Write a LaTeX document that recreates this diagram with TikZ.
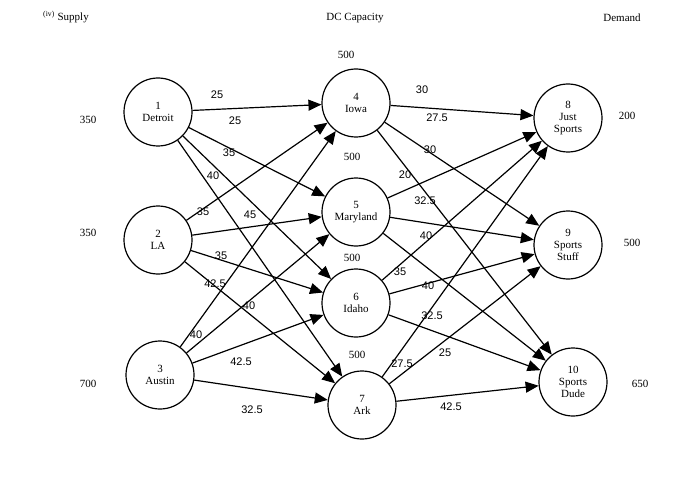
\documentclass[tikz,border=0pt]{standalone}
\usepackage{fontspec}
\setmainfont{Liberation Serif}
\newfontfamily\numfont{Liberation Sans}
\usetikzlibrary{arrows.meta}
\begin{document}
\begin{tikzpicture}[x=1pt,y=-1pt,
  nd/.style={draw,circle,line width=1.2pt,minimum size=68pt,inner sep=0pt,align=center,font=\fontsize{11}{12}\selectfont},
  ed/.style={line width=1.2pt,-{Triangle[length=13pt,width=11pt]}},
  lb/.style={font=\numfont\fontsize{11}{12}\selectfont},
  tx/.style={font=\fontsize{11}{12}\selectfont}]
\useasboundingbox (0,0) rectangle (700,489);
\node[nd] (n1) at (158,112) {1\\Detroit};
\node[nd] (n2) at (158,240) {2\\LA};
\node[nd] (n3) at (160,375) {3\\Austin};
\node[nd] (n4) at (356,103) {4\\Iowa};
\node[nd] (n5) at (356,212) {5\\Maryland};
\node[nd] (n6) at (356,303) {6\\Idaho};
\node[nd] (n7) at (362,405) {7\\Ark};
\node[nd] (n8) at (568,118) {8\\Just\\Sports};
\node[nd] (n9) at (568,245) {9\\Sports\\Stuff};
\node[nd] (n10) at (573,382) {10\\Sports\\Dude};
\foreach \s in {n1,n2,n3}{\foreach \t in {n4,n5,n6,n7}{\draw[ed] (\s) -- (\t);}}
\foreach \s in {n4,n5,n6,n7}{\foreach \t in {n8,n9,n10}{\draw[ed] (\s) -- (\t);}}
\node[tx] (h1) at (66,17) {\textsuperscript{(iv)} Supply};
\node[tx] (h2) at (355,18) {DC Capacity};
\node[tx] (h3) at (622,18) {Demand};
\node[tx] (s1) at (88,120) {350};
\node[tx] (s2) at (88,233) {350};
\node[tx] (s3) at (88,384) {700};
\node[tx] (d1) at (627,116) {200};
\node[tx] (d2) at (632,243) {500};
\node[tx] (d3) at (640,384) {650};
\node[tx] (c1) at (346,55) {500};
\node[tx] (c2) at (352,157) {500};
\node[tx] (c3) at (352,258) {500};
\node[tx] (c4) at (357,355) {500};
\node[lb] at (217,95) {25};
\node[lb] at (235,121) {25};
\node[lb] at (229,153) {35};
\node[lb] at (213,176) {40};
\node[lb] at (203,212) {35};
\node[lb] at (250,215) {45};
\node[lb] at (221,256) {35};
\node[lb] at (215,284) {42.5};
\node[lb] at (196,335) {40};
\node[lb] at (249,306) {40};
\node[lb] at (241,362) {42.5};
\node[lb] at (252,410) {32.5};
\node[lb] at (422,90) {30};
\node[lb] at (437,118) {27.5};
\node[lb] at (430,150) {30};
\node[lb] at (405,175) {20};
\node[lb] at (425,201) {32.5};
\node[lb] at (426,236) {40};
\node[lb] at (400,272) {35};
\node[lb] at (428,286) {40};
\node[lb] at (432,316) {32.5};
\node[lb] at (402,364) {27.5};
\node[lb] at (445,353) {25};
\node[lb] at (451,407) {42.5};
\end{tikzpicture}
\end{document}
